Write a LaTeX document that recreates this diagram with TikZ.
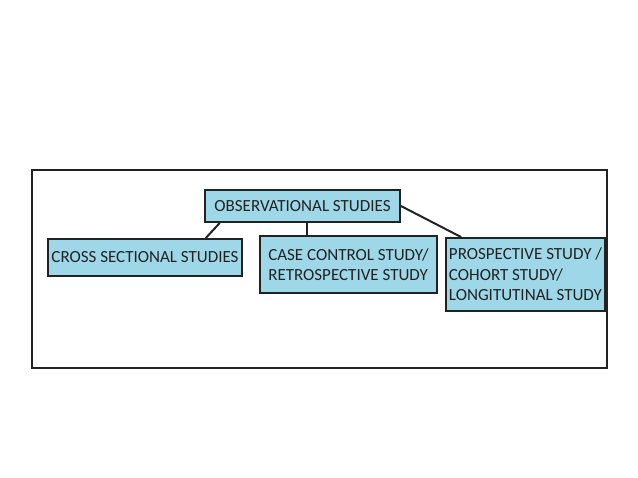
\documentclass[tikz,border=0pt]{standalone}
\usepackage{fontspec}
\setmainfont{Carlito}
\usepackage{tikz}
\usetikzlibrary{calc}
\usetikzlibrary{positioning}

\definecolor{boxblue}{RGB}{158,216,232}
\definecolor{boxline}{RGB}{34,34,34}

\begin{document}
\begin{tikzpicture}[x=1pt,y=-1pt,
    studybox/.style={draw=boxline,fill=boxblue,line width=1.8pt,align=left,
        inner sep=1pt,text=boxline,font=\fontsize{17}{20.5}\selectfont},
    link/.style={draw=boxline,line width=2pt}]
        \useasboundingbox (0,0) rectangle (638,478);
        \draw[boxline,line width=1.5pt] (32,170) rectangle (607,368);

        \node[studybox,minimum width=195pt,minimum height=32pt] (obs) at (302.5,206) {OBSERVATIONAL STUDIES};
        \node[studybox,minimum width=194pt,minimum height=37pt] (cross) at (145,257.5) {CROSS SECTIONAL STUDIES};
        \node[studybox,minimum width=177pt,minimum height=57pt] (case) at (348.5,264.5) {CASE CONTROL STUDY/\\RETROSPECTIVE STUDY};
        \node[studybox,minimum width=159pt,minimum height=73pt] (prosp) at (525.5,274.5) {PROSPECTIVE STUDY /\\COHORT STUDY/\\LONGITUTINAL STUDY};

        \coordinate (casetop) at ($(case.north west)!0.27!(case.north east)$);
        \draw[link] ($(obs.south west)!0.08!(obs.south east)$) -- ($(cross.north west)!0.81!(cross.north east)$);
        \draw[link] (obs.south -| casetop) -- (casetop);
        \draw[link] (obs.east) -- ($(prosp.north west)!0.1!(prosp.north east)$);
    \end{tikzpicture}
\end{document}
